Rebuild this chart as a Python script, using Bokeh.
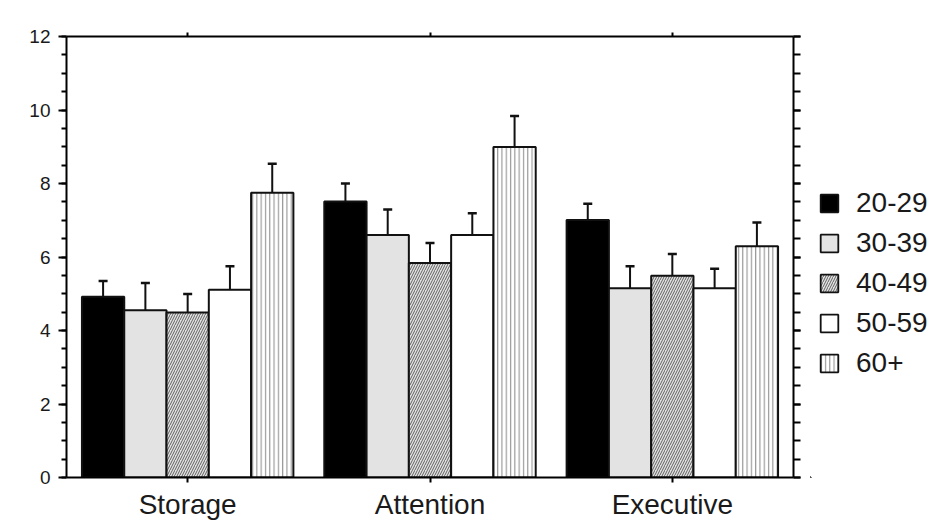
from bokeh.plotting import figure
from bokeh.layouts import row
from bokeh.models import (FactorRange, Range1d, LinearAxis, CategoricalAxis,
                          SingleIntervalTicker, ColumnDataSource, Legend, LegendItem,
                          CustomJSTickFormatter)
from bokeh.transform import dodge
from bokeh.embed import file_html
from bokeh.resources import INLINE

categories = ["Storage", "Attention", "Executive"]
age_groups = ["20-29", "30-39", "40-49", "50-59", "60+"]

mean_20_29 = [4.92, 7.51, 7.01]
mean_30_39 = [4.55, 6.60, 5.15]
mean_40_49 = [4.49, 5.84, 5.49]
mean_50_59 = [5.11, 6.60, 5.15]
mean_60_plus = [7.75, 8.99, 6.29]

err_20_29 = [0.43, 0.49, 0.44]
err_30_39 = [0.74, 0.69, 0.60]
err_40_49 = [0.50, 0.54, 0.59]
err_50_59 = [0.64, 0.59, 0.53]
err_60_plus = [0.79, 0.85, 0.65]

y_min, y_max, y_step = 0, 12, 2

means = [mean_20_29, mean_30_39, mean_40_49, mean_50_59, mean_60_plus]
errs = [err_20_29, err_30_39, err_40_49, err_50_59, err_60_plus]

FONT = "Liberation Sans"
TEXT = "#1a1a1a"

styles = [
    dict(fill_color="#000000"),
    dict(fill_color="#e3e3e3"),
    dict(fill_color="#e2e2e2", hatch_pattern="right_diagonal_line",
         hatch_color="#606060", hatch_scale=5, hatch_weight=1),
    dict(fill_color="#ffffff"),
    dict(fill_color="#ffffff", hatch_pattern="vertical_line",
         hatch_color="#9a9a9a", hatch_scale=4.3, hatch_weight=1.2),
]

W1, W2, H = 810, 135, 523
p = figure(x_range=FactorRange(factors=categories, range_padding=0),
           y_range=Range1d(y_min, y_max),
           width=W1, height=H,
           min_border_left=66, min_border_top=36,
           min_border_right=W1 - 793, min_border_bottom=H - 477,
           x_axis_location=None, y_axis_location=None,
           output_backend="svg", toolbar_location=None)
p.outline_line_color = None
p.xgrid.visible = False
p.ygrid.visible = False
p.background_fill_color = "white"
p.border_fill_color = "white"

ticker = SingleIntervalTicker(interval=y_step, num_minor_ticks=4)

left = LinearAxis(ticker=ticker)
left.axis_line_width = 2
left.major_tick_line_width = 2
left.minor_tick_line_width = 2
left.major_tick_out = 8
left.major_tick_in = 0
left.minor_tick_out = 5
left.minor_tick_in = 0
left.major_label_standoff = 8
left.major_label_text_font = FONT
left.major_label_text_font_size = "19px"
left.major_label_text_color = TEXT
p.add_layout(left, "left")

right = LinearAxis(ticker=ticker, formatter=CustomJSTickFormatter(code="return ''"))
right.axis_line_width = 2
right.major_tick_line_width = 2
right.minor_tick_line_width = 2
right.major_tick_out = 7
right.major_tick_in = 0
right.minor_tick_out = 7
right.minor_tick_in = 0
right.major_label_standoff = 0
p.add_layout(right, "right")

bottom = CategoricalAxis()
bottom.axis_line_width = 2
bottom.major_tick_line_width = 2
bottom.major_tick_out = 5
bottom.major_tick_in = 0
bottom.major_label_standoff = 6
bottom.major_label_text_font = FONT
bottom.major_label_text_font_size = "28px"
bottom.major_label_text_color = TEXT
p.add_layout(bottom, "below")

top = CategoricalAxis(formatter=CustomJSTickFormatter(code="return ''"))
top.axis_line_width = 2
top.major_tick_line_width = 2
top.major_tick_out = 4
top.major_tick_in = 0
top.major_label_standoff = 0
p.add_layout(top, "above")

bar_w = 0.1745
for i, (g, m, e, st) in enumerate(zip(age_groups, means, errs, styles)):
    off = (i - 2) * bar_w
    src = ColumnDataSource(dict(cat=categories, mean=m,
                                top=[a + b for a, b in zip(m, e)]))
    p.vbar(x=dodge("cat", off, range=p.x_range), top="mean", bottom=0,
           width=bar_w, source=src, line_color="#111111", line_width=2, **st)
    p.segment(x0=dodge("cat", off, range=p.x_range), y0="mean",
              x1=dodge("cat", off, range=p.x_range), y1="top",
              source=src, line_color="#111111", line_width=2)
    p.scatter(x=dodge("cat", off, range=p.x_range), y="top", source=src,
              marker="dash", size=9, line_color="#111111", line_width=2.5)

# legend panel to the right of the chart (its renderers hold one
# off-range placeholder point each, only so that the swatches are drawn)
lg = figure(width=W2, height=H, x_range=Range1d(0, 1), y_range=Range1d(0, 1),
            min_border=0, x_axis_location=None, y_axis_location=None,
            output_backend="svg", toolbar_location=None)
lg.outline_line_color = None
lg.xgrid.visible = False
lg.ygrid.visible = False
lg.border_fill_color = "white"
lg.background_fill_color = "white"
items = []
for g, st in zip(age_groups, styles):
    r = lg.vbar(x=[-5], top=[-5], bottom=[-6], width=0.1,
                line_color="#111111", line_width=1.8, **st)
    items.append(LegendItem(label=g, renderers=[r]))

legend = Legend(items=items, location=(8, 98), orientation="vertical",
                glyph_width=22, glyph_height=22, label_standoff=16,
                label_text_font=FONT, label_text_font_size="28px",
                label_text_color=TEXT, label_height=22, spacing=8,
                padding=0, margin=0, border_line_color=None,
                background_fill_alpha=0)
lg.add_layout(legend, "center")

layout = row(p, lg, spacing=0)
open("out.html", "w").write(file_html(layout, INLINE))
